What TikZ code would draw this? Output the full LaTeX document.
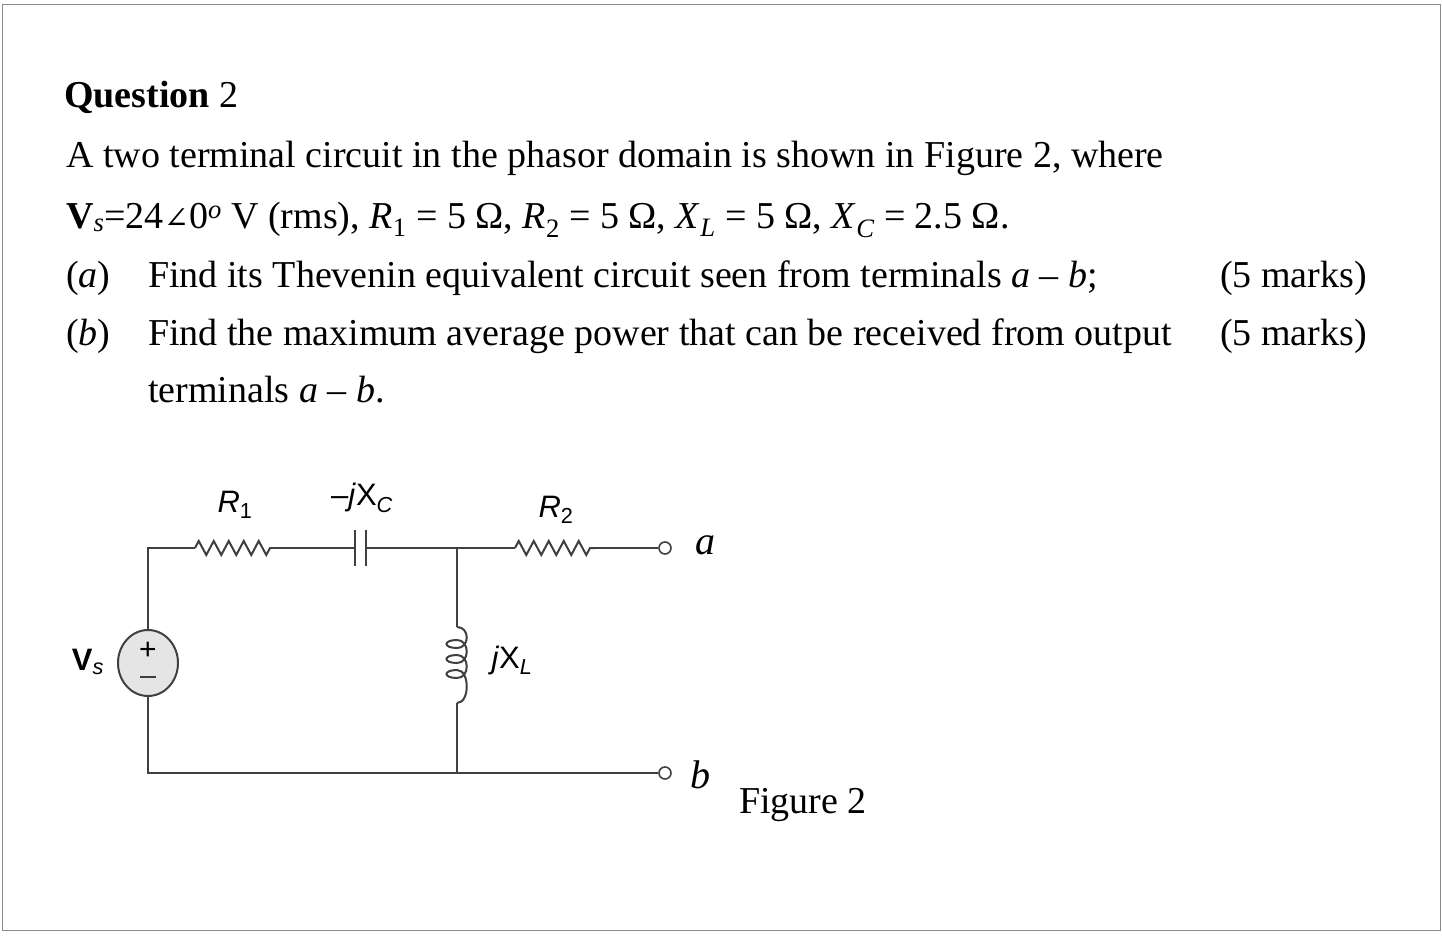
\documentclass[tikz,border=0pt]{standalone}
\usepackage{fontspec}
\setmainfont{Liberation Serif}
\setsansfont{Liberation Sans}
\newfontfamily\djv{DejaVu Serif}
\usetikzlibrary{decorations.pathmorphing,shapes.geometric}
\newcommand{\iv}[1]{\textit{#1}}
\begin{document}
\begin{tikzpicture}[x=1pt,y=-1pt,
  wire/.style={draw=black!75,line width=2pt},
  txt/.style={anchor=base west,inner sep=0,font=\fontsize{38}{42}\selectfont},
  lbl/.style={inner sep=0,font=\sffamily\fontsize{31}{34}\selectfont},
  term/.style={circle,draw=black!75,line width=1.6pt,fill=white,minimum size=12pt,inner sep=0}]
\useasboundingbox (0,0) rectangle (1442,936);
\draw[black!45,line width=1pt] (2,5) rectangle (1440,930);
\node[txt] (q) at (64,108) {\textbf{Question} 2};
\node[txt] (l1) at (66,168) {A two terminal circuit in the phasor domain is shown in Figure 2, where};
\node[txt] (l2) at (66,228) {\textbf{V}\textsubscript{\itshape s}=24{\djv\fontsize{30}{34}\selectfont ∠}0\textsuperscript{\itshape o} V (rms), \iv{R}\textsubscript{1} = 5 Ω, \iv{R}\textsubscript{2} = 5 Ω, \iv{X}\textsubscript{\itshape L} = 5 Ω, \iv{X}\textsubscript{\itshape C} = 2.5 Ω.};
\node[txt] (pa) at (66,287) {(\iv{a})};
\node[txt] (la) at (148,287) {Find its Thevenin equivalent circuit seen from terminals \iv{a} – \iv{b};};
\node[txt] (ma) at (1220,287) {(5 marks)};
\node[txt] (pb) at (66,345) {(\iv{b})};
\node[txt] (lb) at (148,345) {Find the maximum average power that can be received from output};
\node[txt] (mb) at (1220,345) {(5 marks)};
\node[txt] (lc) at (148,402) {terminals \iv{a} – \iv{b}.};
% circuit
\coordinate (tl) at (148,548);
\coordinate (bl) at (148,773);
\coordinate (j) at (457,548);
\coordinate (jb) at (457,773);
\node[ellipse,draw=black!75,line width=2pt,fill=black!10,minimum width=60pt,minimum height=66pt,inner sep=0] (vs) at (148,663) {};
\node[inner sep=0,font=\sffamily\fontsize{30}{32}\selectfont] at (148,651) {+};
\draw[black!75,line width=2pt] (140,677) -- (156,677);
\node[term] (a) at (665,548) {};
\node[term] (b) at (665,773) {};
\draw[wire] (vs.north) -- (tl) -- (195,548);
\draw[wire,decorate,decoration={zigzag,segment length=15pt,amplitude=7pt}] (195,548) -- (272,548);
\draw[wire] (272,548) -- (355,548);
\draw[wire] (355,530) -- (355,566);
\draw[wire] (366,530) -- (366,566);
\draw[wire] (366,548) -- (j) -- (515,548);
\draw[wire,decorate,decoration={zigzag,segment length=15pt,amplitude=7pt}] (515,548) -- (595,548);
\draw[wire] (595,548) -- (a);
\draw[wire] (vs.south) -- (bl) -- (jb) -- (b);
\draw[wire] (j) -- (457,627);
\draw[wire] (457,627) .. controls (470,627) and (470,648) .. (457,648)
  .. controls (443,648) and (443,640) .. (457,640)
  .. controls (470,640) and (470,663) .. (457,663)
  .. controls (443,663) and (443,655) .. (457,655)
  .. controls (470,655) and (470,678) .. (457,678)
  .. controls (443,678) and (443,670) .. (457,670)
  .. controls (470,670) and (470,703) .. (457,703);
\draw[wire] (457,703) -- (jb);
\node[lbl] (r1) at (235,505) {\itshape R\textsubscript{\upshape 1}};
\node[lbl] (xc) at (362,498) {–\textit{j}X\textsubscript{\itshape C}};
\node[lbl] (r2) at (556,510) {\itshape R\textsubscript{\upshape 2}};
\node[lbl] (xl) at (512,660) {\textit{j}X\textsubscript{\itshape L}};
\node[lbl] (vsl) at (88,662) {\textbf{V}\textsubscript{\itshape s}};
\node[lbl,font=\fontsize{40}{44}\selectfont\itshape] (al) at (705,545) {a};
\node[lbl,font=\fontsize{40}{44}\selectfont\itshape] (bll) at (700,775) {b};
\node[txt] (fig) at (739,813) {Figure 2};
\end{tikzpicture}
\end{document}
